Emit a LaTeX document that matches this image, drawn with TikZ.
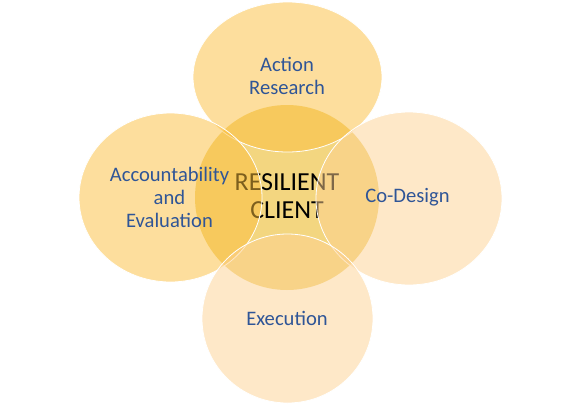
\documentclass[tikz,border=0pt]{standalone}
\usepackage{fontspec}
\setmainfont{Carlito}
\usetikzlibrary{shapes.geometric}
\definecolor{corefill}{RGB}{243,214,128}
\definecolor{goldA}{RGB}{251,190,59}
\definecolor{goldB}{RGB}{253,209,145}
\definecolor{labelblue}{RGB}{47,85,151}
\tikzset{
  petal/.style={ellipse, inner sep=0pt, draw=white, line width=0.8pt, fill opacity=0.5, draw opacity=1},
  petallabel/.style={align=center, text=labelblue, font=\fontsize{20.6}{23}\selectfont, inner sep=0pt},
  corelabel/.style={align=center, text=black, font=\fontsize{26}{28}\selectfont, inner sep=0pt}
}
\begin{document}
\begin{tikzpicture}[x=1pt,y=-1pt]
\useasboundingbox (0,0) rectangle (576,405);
% core circle with its text, under the petals
\node[ellipse, inner sep=0pt, fill=corefill, minimum width=184pt, minimum height=185pt] (core) at (287,197.5) {};
\node[corelabel] (coretext) at (287,196) {RESILIENT\\CLIENT};
% petals
\node[petal, fill=goldA, minimum width=189pt, minimum height=150pt] (top) at (287.5,77) {};
\node[petal, fill=goldA, minimum width=183pt, minimum height=169pt] (left) at (170.5,197.5) {};
\node[petal, fill=goldB, minimum width=186pt, minimum height=173pt] (right) at (409,198.5) {};
\node[petal, fill=goldB, minimum width=171pt, minimum height=169pt] (bottom) at (287.5,318.5) {};
% labels
\node[petallabel] (toplabel) at (287,75.5) {Action\\Research};
\node[petallabel] (leftlabel) at (169.5,197) {Accountability\\and\\Evaluation};
\node[petallabel] (rightlabel) at (407.5,197) {Co-Design};
\node[petallabel] (bottomlabel) at (287,318) {Execution};
\end{tikzpicture}
\end{document}
